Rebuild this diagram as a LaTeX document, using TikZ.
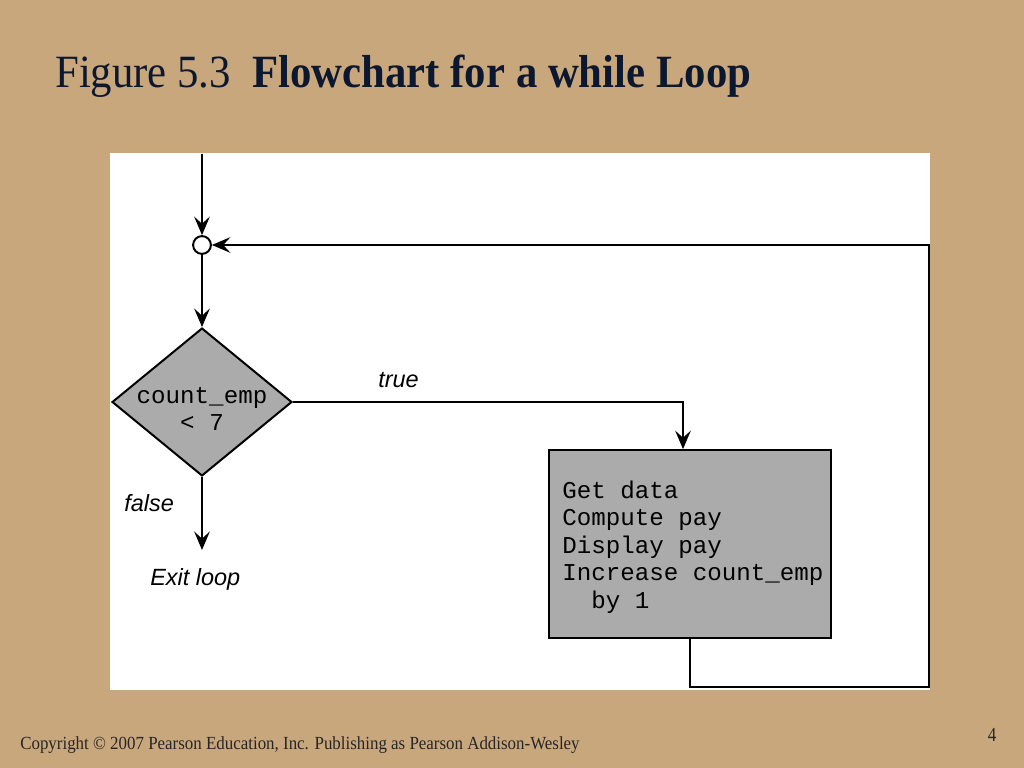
\documentclass[tikz,border=0pt]{standalone}
\usepackage{fontspec}
\setmainfont{Liberation Serif}
\newfontfamily\monofont{Liberation Mono}
\newfontfamily\labfont{Liberation Sans}
\usetikzlibrary{shapes.geometric,arrows.meta,calc}
\definecolor{slidebg}{RGB}{201,167,125}
\definecolor{titlecol}{RGB}{12,24,48}
\definecolor{boxgray}{RGB}{171,171,171}
\tikzset{
  flow/.style={line width=1.4pt,-{Stealth[length=13pt,width=11pt,inset=5pt]}},
  plain/.style={line width=1.4pt},
  junction/.style={circle,draw,line width=1.4pt,fill=white,minimum size=12.5pt,inner sep=0pt},
  decision/.style={diamond,draw,line width=1.4pt,fill=boxgray,minimum width=126.5pt,minimum height=104pt,inner sep=0pt},
  procbox/.style={rectangle,draw,line width=1.4pt,fill=boxgray,minimum width=198pt,minimum height=132pt,inner sep=0pt},
  codetext/.style={font=\monofont\fontsize{17}{19.4}\selectfont,inner sep=0pt},
  lab/.style={font=\labfont\itshape\fontsize{16.5}{19}\selectfont,inner sep=0pt},
}
\begin{document}
\begin{tikzpicture}[x=0.703125pt,y=-0.703125pt]
\useasboundingbox (0,0) rectangle (1024,768);
\fill[slidebg] (0,0) rectangle (1024,768);
\fill[white] (110,153) rectangle (930,690);
\node[anchor=base west,inner sep=0pt,text=titlecol,font=\fontsize{32.5}{38}\selectfont] (title) at (55,88) {\scalebox{0.925}[1]{Figure 5.3\ \ \textbf{Flowchart for a while Loop}}};
\node[anchor=base west,inner sep=0pt,text=black!85,font=\fontsize{13}{15}\selectfont] (copy) at (20,749) {\scalebox{0.915}[1]{Copyright \textcopyright{} 2007 Pearson Education, Inc. Publishing as Pearson Addison-Wesley}};
\node[anchor=base,inner sep=0pt,text=black!85,font=\fontsize{14}{16}\selectfont] (pnum) at (992,741) {\scalebox{0.85}[1]{4}};

\coordinate (start) at (202,154);
\node[junction] (j) at (202,245) {};
\node[decision,label={[codetext,align=center,yshift=-5pt]center:{count\_emp\\< 7}}] (dec) at (202,402) {};
\node[procbox] (box) at (690,544) {};
\node[codetext,anchor=west,align=left] (boxtext) at (562,547) {Get data\\Compute pay\\Display pay\\Increase count\_emp\\\ \ by 1};
\coordinate (exitpt) at (202,550);
\node[lab,anchor=base west] (exit) at (150,585) {Exit loop};
\node[lab,anchor=base west] (true) at (378,387) {true};
\node[lab,anchor=base west] (false) at (124,511) {false};
\coordinate (rb) at (929,687);
\coordinate (rt) at (929,245);

\draw[flow] (start) -- (j);
\draw[flow] (j) -- (dec);
\draw[flow] (dec.east) -| ($(box.north)+(-7,0)$);
\draw[flow] (dec.south) -- (exitpt);
\draw[flow] (box.south) |- (rb) -- (rt) -- (j);
\end{tikzpicture}
\end{document}
